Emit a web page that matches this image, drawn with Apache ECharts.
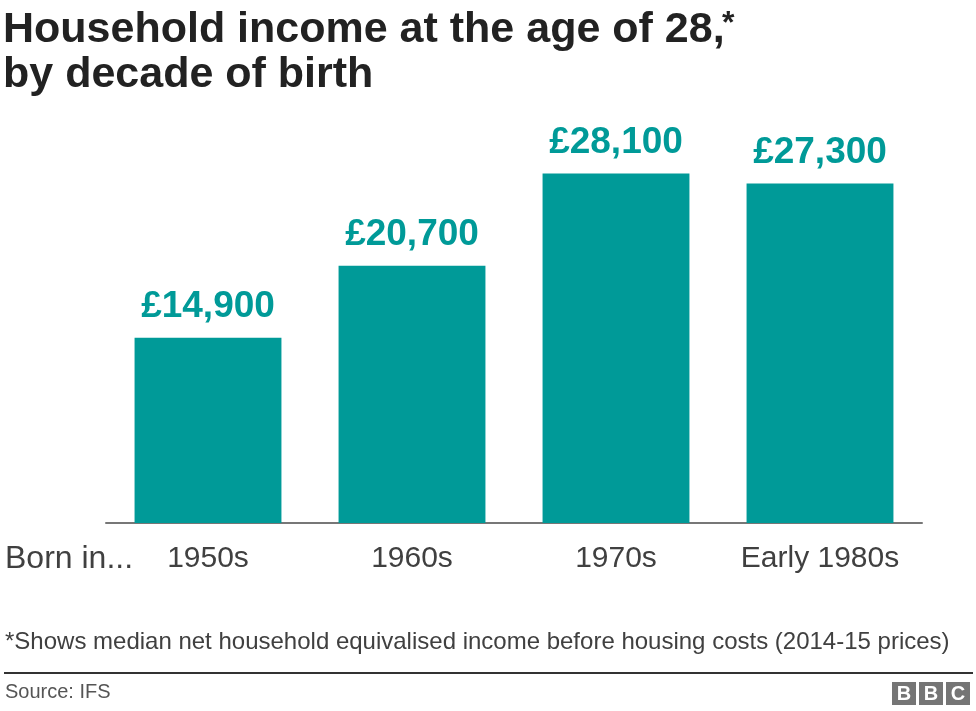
<!DOCTYPE html>
<html>
<head>
<meta charset="utf-8">
<title>Household income at the age of 28</title>
<script src="https://cdn.jsdelivr.net/npm/echarts@6/dist/echarts.min.js"></script>
<style>
  html, body { margin: 0; padding: 0; background: #fff; }
  #chart { width: 976px; height: 711px; }
</style>
</head>
<body>
<div id="chart"></div>
<script>
// data
var decades = ['1950s', '1960s', '1970s', 'Early 1980s'];
var income = [14900, 20700, 28100, 27300];

var FONT = '"Liberation Sans", Arial, Helvetica, sans-serif';
var TEAL = '#009a98';

function pounds(v) {
  return '£' + v.toLocaleString('en-GB');
}

var chart = echarts.init(document.getElementById('chart'));

var option = {
  backgroundColor: '#fff',
  animation: false,
  textStyle: { fontFamily: FONT },
  grid: { left: 106, right: 54, top: 150, bottom: 188 },
  xAxis: {
    type: 'category',
    data: decades,
    axisLine: { lineStyle: { color: '#777', width: 2 } },
    axisTick: { show: false },
    axisLabel: { interval: 0, fontSize: 30, color: '#404040', margin: 21, fontFamily: FONT }
  },
  yAxis: {
    type: 'value',
    min: 0,
    max: 30000,
    show: false
  },
  series: [{
    type: 'bar',
    data: income,
    barCategoryGap: '28%',
    itemStyle: { color: TEAL },
    label: {
      show: true,
      position: 'top',
      distance: 12,
      fontSize: 37,
      fontWeight: 'bold',
      color: TEAL,
      fontFamily: FONT,
      formatter: function (p) { return pounds(p.value); }
    }
  }],
  graphic: [
    {
      type: 'text', left: 3, top: 8,
      style: {
        text: 'Household income at the age of 28,\nby decade of birth',
        font: 'bold 43px ' + FONT,
        fill: '#222',
        lineHeight: 45
      }
    },
    {
      // footnote marker sitting over the comma
      type: 'text', left: 722, top: 8,
      style: { text: '*', font: 'bold 32px ' + FONT, fill: '#222' }
    },
    {
      type: 'text', left: 5, top: 543,
      style: { text: 'Born in...', font: '32px ' + FONT, fill: '#404040' }
    },
    {
      type: 'text', left: 5, top: 630,
      style: {
        text: '*Shows median net household equivalised income before housing costs (2014-15 prices)',
        font: '24px ' + FONT, fill: '#404040'
      }
    },
    {
      type: 'line',
      shape: { x1: 4, y1: 673, x2: 973, y2: 673 },
      style: { stroke: '#333', lineWidth: 2 }
    },
    {
      type: 'text', left: 5, top: 682,
      style: { text: 'Source: IFS', font: '20px ' + FONT, fill: '#555' }
    },
    {
      type: 'group', left: 892, top: 682,
      children: [0, 1, 2].map(function (i) {
        return {
          type: 'group', x: i * 27,
          children: [
            { type: 'rect', shape: { x: 0, y: 0, width: 24, height: 23 }, style: { fill: '#757575' } },
            {
              type: 'text', x: 12, y: 12,
              style: { text: 'BBC'.charAt(i), font: 'bold 20px ' + FONT, fill: '#fff', align: 'center', verticalAlign: 'middle' }
            }
          ]
        };
      })
    }
  ]
};

chart.setOption(option);
</script>
</body>
</html>
